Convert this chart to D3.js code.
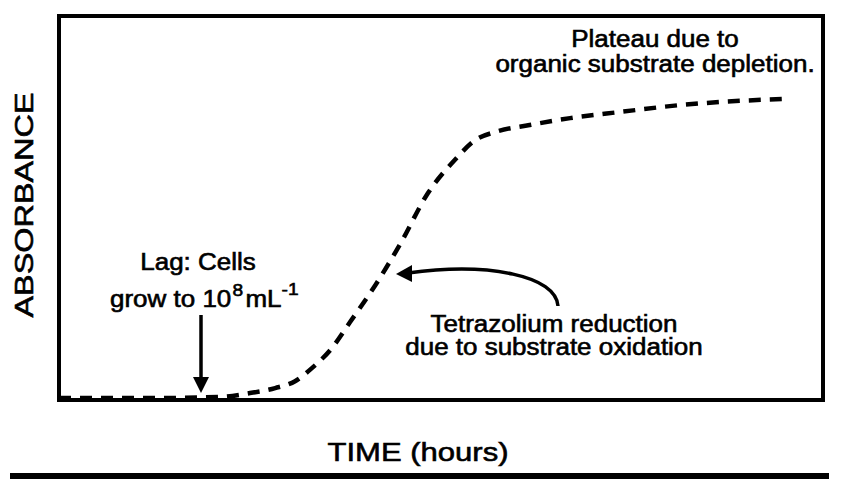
<!DOCTYPE html>
<html>
<head>
<meta charset="utf-8">
<script src="https://cdn.jsdelivr.net/npm/d3@7"></script>
<style>
  body { margin: 0; background: #fff; }
  svg text { font-family: "Liberation Sans", Arial, Helvetica, sans-serif; fill: #000; stroke: #000; stroke-width: 0.6px; }
</style>
</head>
<body>
<svg id="chart" width="846" height="489"></svg>
<script>
// growth curve (time and absorbance in arbitrary units, 0-100)
var time       = [0, 12, 21, 25, 28.3, 30.9, 33.1, 35.5, 38.1, 41.4, 44.6, 48.3, 51.8, 54.5, 57.1, 61.6, 66.9, 73.4, 81.3, 89.1, 95];
var absorbance = [0.5, 0.5, 0.8, 1.8, 3.1, 4.9, 8.3, 13, 20.3, 29.9, 40.4, 53.9, 62.5, 67.7, 69.8, 71.6, 73.4, 75, 76.8, 77.9, 78.4];

var xLabel = 'TIME (hours)';
var yLabel = 'ABSORBANCE';
var plateauText = ['Plateau due to', 'organic substrate depletion.'];
var tetraText = ['Tetrazolium reduction', 'due to substrate oxidation'];
var lagText = 'Lag: Cells';

var svg = d3.select('#chart');
var box = {left: 59, right: 823, top: 16, bottom: 400};

var x = d3.scaleLinear().domain([0, 100]).range([box.left, box.right]);
var y = d3.scaleLinear().domain([0, 100]).range([box.bottom, box.top]);

var data = time.map(function (t, i) { return {t: t, a: absorbance[i]}; });

// frame
svg.append('rect')
  .attr('x', x(0)).attr('y', y(100))
  .attr('width', x(100) - x(0)).attr('height', y(0) - y(100))
  .attr('fill', 'none').attr('stroke', '#000').attr('stroke-width', 4);

// curve
var line = d3.line()
  .x(function (d) { return x(d.t); })
  .y(function (d) { return y(d.a); })
  .curve(d3.curveMonotoneX);

svg.append('path')
  .datum(data)
  .attr('d', line)
  .attr('fill', 'none')
  .attr('stroke', '#000')
  .attr('stroke-width', 4.5)
  .attr('stroke-dasharray', '12,9');

// axis labels
svg.append('text')
  .attr('transform', 'translate(33,205) rotate(-90)')
  .attr('text-anchor', 'middle')
  .style('font-size', '25px')
  .attr('textLength', 225).attr('lengthAdjust', 'spacingAndGlyphs')
  .text(yLabel);

svg.append('text')
  .attr('x', 418).attr('y', 461)
  .attr('text-anchor', 'middle')
  .style('font-size', '26px')
  .attr('textLength', 181).attr('lengthAdjust', 'spacingAndGlyphs')
  .text(xLabel);

svg.append('rect')
  .attr('x', 10).attr('y', 473).attr('width', 819).attr('height', 6)
  .attr('fill', '#000');

// annotations
function centred(lines, cx, y0, gap) {
  lines.forEach(function (s, i) {
    svg.append('g')
      .attr('transform', 'translate(' + cx + ',' + (y0 + i * gap) + ') scale(1.13,1)')
      .append('text')
      .attr('text-anchor', 'middle')
      .style('font-size', '23px')
      .text(s);
  });
}
centred(plateauText, 655, 47, 25);
centred(tetraText, 554, 332, 23);
centred([lagText], 198, 270, 0);

// "grow to 10^8 mL^-1"
var g2 = svg.append('g').attr('transform', 'translate(110,307) scale(1.13,1)');
var t2 = g2.append('text').style('font-size', '23px');
t2.append('tspan').text('grow to 10');
t2.append('tspan').attr('dy', -11).attr('dx', 1).style('font-size', '17px').text('8');
t2.append('tspan').attr('dy', 11).attr('dx', 2).text('mL');
t2.append('tspan').attr('dy', -12).style('font-size', '17px').text('-1');

// lag arrow
var ax = 201;
svg.append('line')
  .attr('x1', ax).attr('x2', ax).attr('y1', 315).attr('y2', 380)
  .attr('stroke', '#000').attr('stroke-width', 3.5);
svg.append('path')
  .attr('d', 'M' + (ax - 8) + ',377 L' + (ax + 8) + ',377 L' + ax + ',393 Z')
  .attr('fill', '#000');

// curved arrow towards the rising part
svg.append('path')
  .attr('d', 'M558,306 C556,276 490,262 408,273')
  .attr('fill', 'none').attr('stroke', '#000').attr('stroke-width', 3.5);
svg.append('path')
  .attr('d', 'M396,274 L412,265 L412,282 Z')
  .attr('fill', '#000');
</script>
</body>
</html>
